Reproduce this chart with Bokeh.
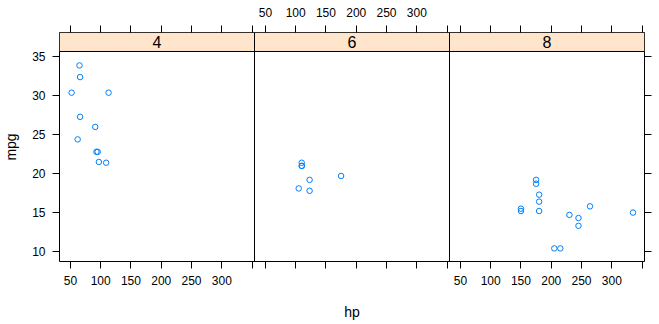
from bokeh.plotting import figure
from bokeh.models import Range1d, LinearAxis, FixedTicker, BoxAnnotation, Span, Label
from bokeh.embed import file_html
from bokeh.resources import INLINE

# ---- data (mtcars: mpg ~ hp | cyl) ----
panels = ["4", "6", "8"]
hp_4 = [93, 62, 95, 66, 52, 65, 97, 66, 91, 113, 109]
mpg_4 = [22.8, 24.4, 22.8, 32.4, 30.4, 33.9, 21.5, 27.3, 26.0, 30.4, 21.4]
hp_6 = [110, 110, 110, 105, 123, 123, 175]
mpg_6 = [21.0, 21.0, 21.4, 18.1, 19.2, 17.8, 19.7]
hp_8 = [175, 245, 180, 180, 180, 205, 215, 230, 150, 150, 245, 175, 264, 335]
mpg_8 = [18.7, 14.3, 16.4, 17.3, 15.2, 10.4, 10.4, 14.7, 15.5, 15.2, 13.3, 19.2, 15.8, 15.0]
x_ticks = [50, 100, 150, 200, 250, 300, 350]
x_tick_labels = ["50", "100", "150", "200", "250", "300", ""]
y_ticks = [10, 15, 20, 25, 30, 35]

series = [(hp_4, mpg_4), (hp_6, mpg_6), (hp_8, mpg_8)]

# ---- layout constants ----
X_LO, X_HI = 32, 354
W = X_HI - X_LO
Y_LO, Y_PANEL_TOP, Y_STRIP_TOP = 8.715, 35.69, 38.13

p = figure(width=659, height=324, output_backend="svg", toolbar_location=None,
           x_range=Range1d(X_LO, X_LO + 3 * W), y_range=Range1d(Y_LO, Y_STRIP_TOP),
           x_axis_location=None, y_axis_location=None,
           min_border_left=59, min_border_right=15, min_border_top=32, min_border_bottom=63)
p.xgrid.visible = False
p.ygrid.visible = False
p.outline_line_color = "black"
p.outline_line_width = 1
p.background_fill_color = "white"
p.border_fill_color = "white"

for k in range(3):
    p.extra_x_ranges["p%d" % k] = Range1d(X_LO - k * W, X_LO + (3 - k) * W)

def style_axis(ax, show_labels):
    ax.axis_line_color = None
    ax.major_tick_in = 0
    ax.major_tick_out = 7
    ax.major_tick_line_color = "black"
    ax.major_tick_line_width = 1
    ax.minor_tick_line_color = None
    ax.major_label_text_font = "Liberation Sans"
    ax.major_label_text_font_size = "12px"
    ax.major_label_text_color = "black" if show_labels else None
    ax.major_label_standoff = 7
    ax.axis_label_text_font = "Liberation Sans"
    ax.axis_label_text_font_size = "14px"
    ax.axis_label_text_font_style = "normal"
    ax.axis_label_text_color = "black"

all_x = []
top_over = {}
bot_over = {}
for k in range(3):
    for t, lab in zip(x_ticks, x_tick_labels):
        pos = t + k * W
        all_x.append(pos)
        top_over[pos] = lab if k == 1 else ""
        bot_over[pos] = lab if k != 1 else ""

top_ax = LinearAxis(ticker=FixedTicker(ticks=all_x), major_label_overrides=top_over)
style_axis(top_ax, True)
top_ax.major_label_standoff = 9
p.add_layout(top_ax, "above")

bot_ax = LinearAxis(ticker=FixedTicker(ticks=all_x), major_label_overrides=bot_over, axis_label="hp")
style_axis(bot_ax, True)
bot_ax.axis_label_standoff = 16
p.add_layout(bot_ax, "below")

left_ax = LinearAxis(ticker=FixedTicker(ticks=y_ticks), axis_label="mpg")
style_axis(left_ax, True)
left_ax.axis_label_standoff = 10
p.add_layout(left_ax, "left")

right_ax = LinearAxis(ticker=FixedTicker(ticks=y_ticks))
style_axis(right_ax, False)
right_ax.major_label_text_font_size = "0px"
p.add_layout(right_ax, "right")

# strip
p.add_layout(BoxAnnotation(bottom=Y_PANEL_TOP, top=Y_STRIP_TOP, fill_color="#ffe5cc", fill_alpha=1,
                           line_color="black", line_width=1, level="underlay"))
for k in (1, 2):
    p.add_layout(Span(location=X_LO, x_range_name="p%d" % k, dimension="height",
                      line_color="black", line_width=1))
p.add_layout(Span(location=Y_PANEL_TOP, dimension="width", line_color="black", line_width=1))

for k, name in enumerate(panels):
    p.add_layout(Label(x=(X_LO + X_HI) / 2, y=(Y_PANEL_TOP + Y_STRIP_TOP) / 2, x_range_name="p%d" % k,
                       text=name, text_align="center", text_baseline="middle",
                       text_font="Liberation Sans", text_font_size="16px", text_color="black"))
    xs, ys = series[k]
    p.scatter(xs, ys, marker="circle", size=5.5, fill_color=None, line_color="#0080ff",
              line_width=1, x_range_name="p%d" % k)

open("out.html", "w").write(file_html(p, INLINE))
